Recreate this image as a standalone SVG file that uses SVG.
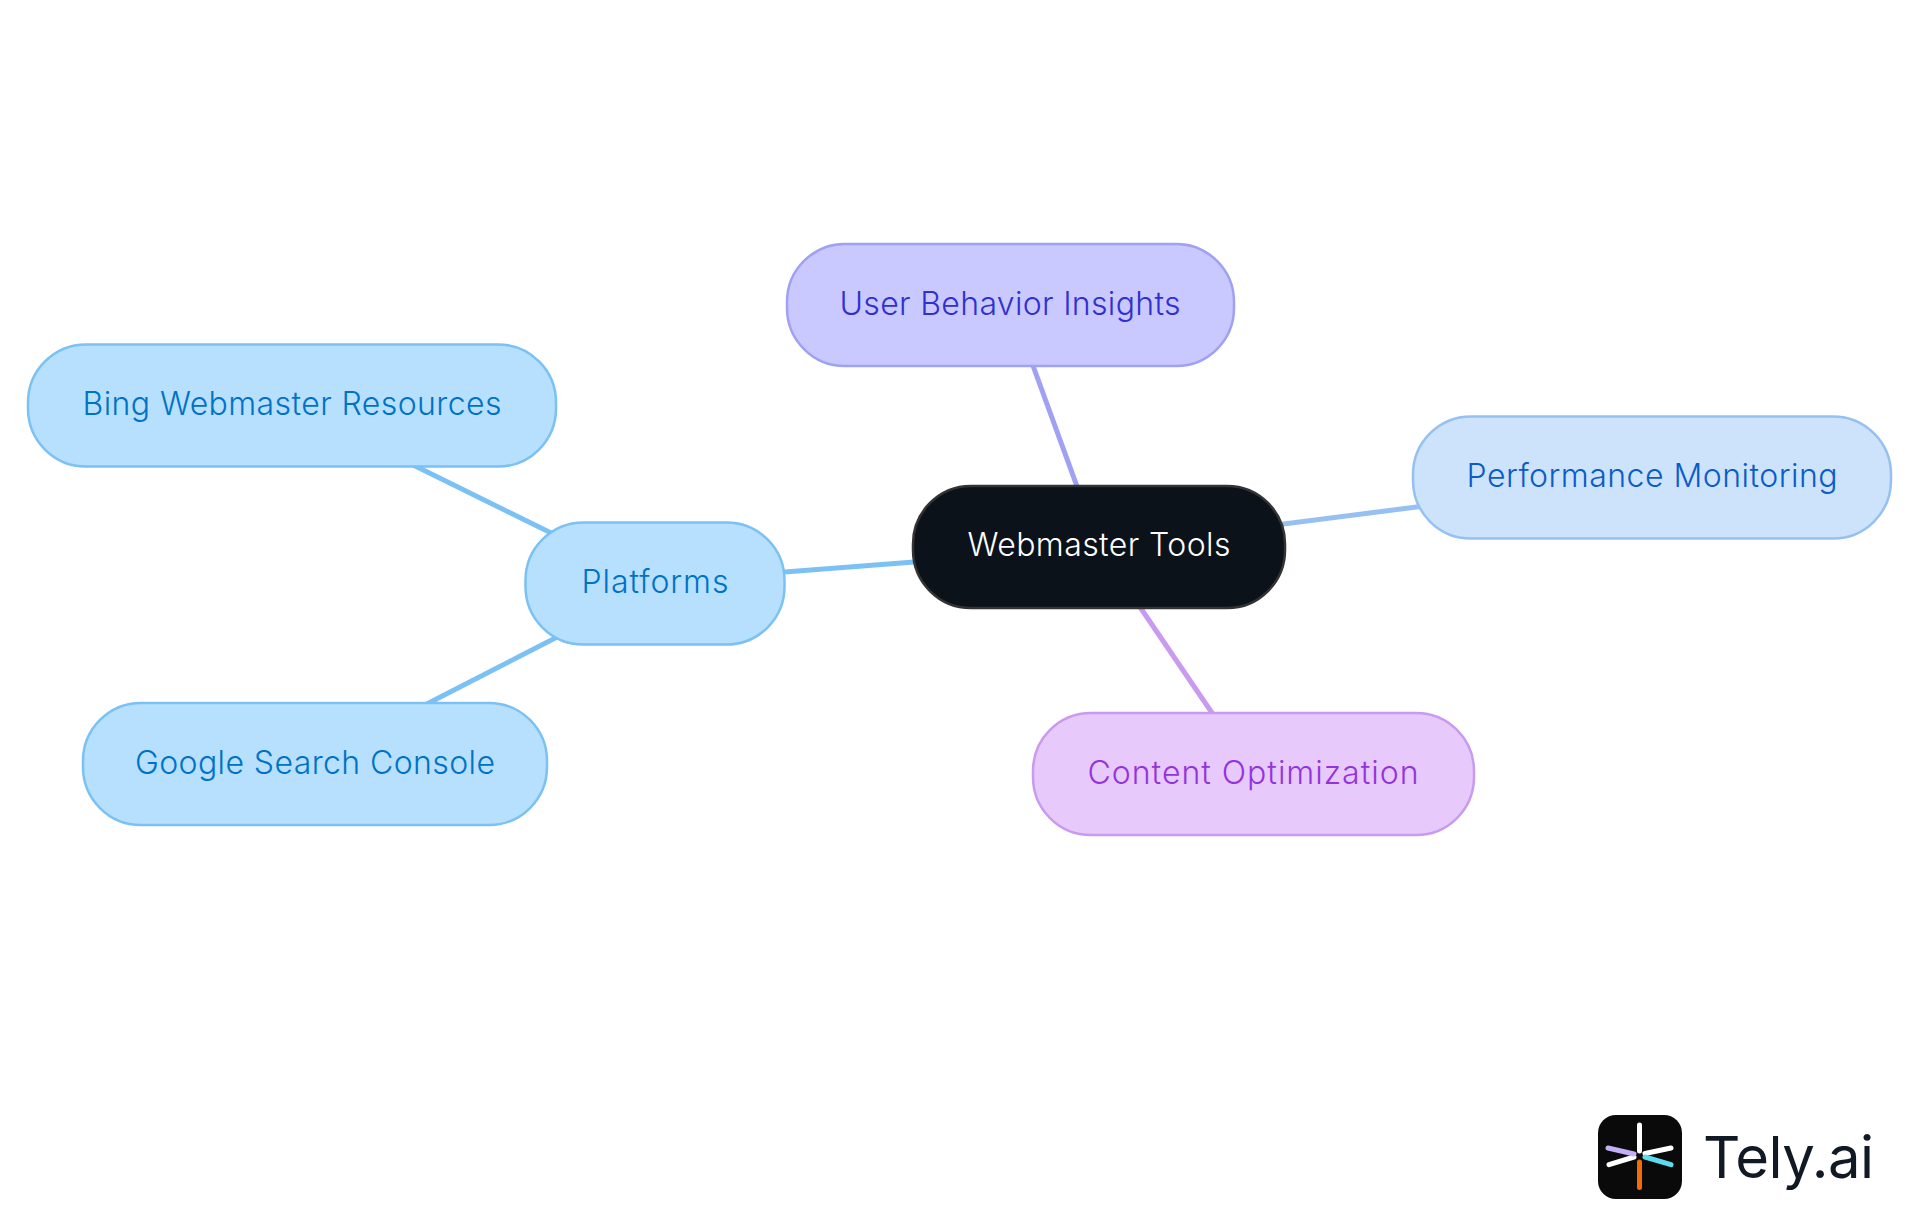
<svg xmlns="http://www.w3.org/2000/svg" width="1920" height="1215" viewBox="0 0 1920 1215">
<style>
text{font-family:"Inter","Noto Sans",sans-serif;font-size:32px;font-weight:300;text-anchor:middle;dominant-baseline:central}
.e{fill:none;stroke-width:5}
.n{stroke-width:2.500}
</style>
<rect width="1920" height="1215" fill="#fff"/>
<g id="connectors">
<path class="e" d="M760 574L940 560" stroke="#7bc1f3"/>
<path class="e" d="M600 557L405 461" stroke="#7bc1f3"/>
<path class="e" d="M600 615L419 708" stroke="#7bc1f3"/>
<path class="e" d="M1090 522L1028 352" stroke="#a0a0f5"/>
<path class="e" d="M1260 527L1440 504" stroke="#96c0f2"/>
<path class="e" d="M1125 585L1225 732" stroke="#c99bf0"/>
</g>
<g id="root"><rect class="n" x="913" y="486" width="372" height="122" rx="58" fill="#0c121a" stroke="#333"/><text x="1099" y="544" fill="#fff" textLength="263" lengthAdjust="spacing">Webmaster Tools</text></g>
<g id="platforms"><rect class="n" x="525.500" y="522.500" width="259" height="122" rx="58" fill="#b6e0fe" stroke="#7bc1f3"/><text x="655" y="581" fill="#0072c6" textLength="147" lengthAdjust="spacing">Platforms</text></g>
<g id="bing"><rect class="n" x="28" y="344.500" width="528" height="122" rx="58" fill="#b6e0fe" stroke="#7bc1f3"/><text x="292" y="403" fill="#0072c6" textLength="419" lengthAdjust="spacing">Bing Webmaster Resources</text></g>
<g id="google"><rect class="n" x="83" y="703" width="464" height="122" rx="58" fill="#b6e0fe" stroke="#7bc1f3"/><text x="315" y="762" fill="#0072c6" textLength="360" lengthAdjust="spacing">Google Search Console</text></g>
<g id="user"><rect class="n" x="787" y="244" width="447" height="122" rx="58" fill="#c9c9ff" stroke="#a0a0f5"/><text x="1010" y="303" fill="#3030d0" textLength="341" lengthAdjust="spacing">User Behavior Insights</text></g>
<g id="performance"><rect class="n" x="1413" y="416.500" width="478" height="122" rx="58" fill="#cde3fc" stroke="#96c0f2"/><text x="1652" y="475" fill="#0a5cc8" textLength="371" lengthAdjust="spacing">Performance Monitoring</text></g>
<g id="content"><rect class="n" x="1033" y="713" width="441" height="122" rx="58" fill="#e8c9fc" stroke="#c99bf0"/><text x="1253" y="772" fill="#9333dd" textLength="331" lengthAdjust="spacing">Content Optimization</text></g>
<g id="logo">
<rect x="1598" y="1115" width="84" height="84" rx="18" fill="#0a0a0a"/>
<g fill="none" stroke-width="5" stroke-linecap="round">
<path d="M1639.500 1125V1151M1634 1157L1609 1164.700M1645 1153.500L1671 1148" stroke="#fff"/>
<path d="M1634 1154L1608 1148" stroke="#c4aef5"/>
<path d="M1645 1157L1671 1164.700" stroke="#5ddbee"/>
<path d="M1639.500 1162V1187.500" stroke="#f26a0c"/>
</g>
<text x="1703" y="1178" style="font-size:58px;font-weight:400;text-anchor:start;dominant-baseline:auto" fill="#111a24" textLength="171" lengthAdjust="spacing">Tely.ai</text>
</g>
</svg>
